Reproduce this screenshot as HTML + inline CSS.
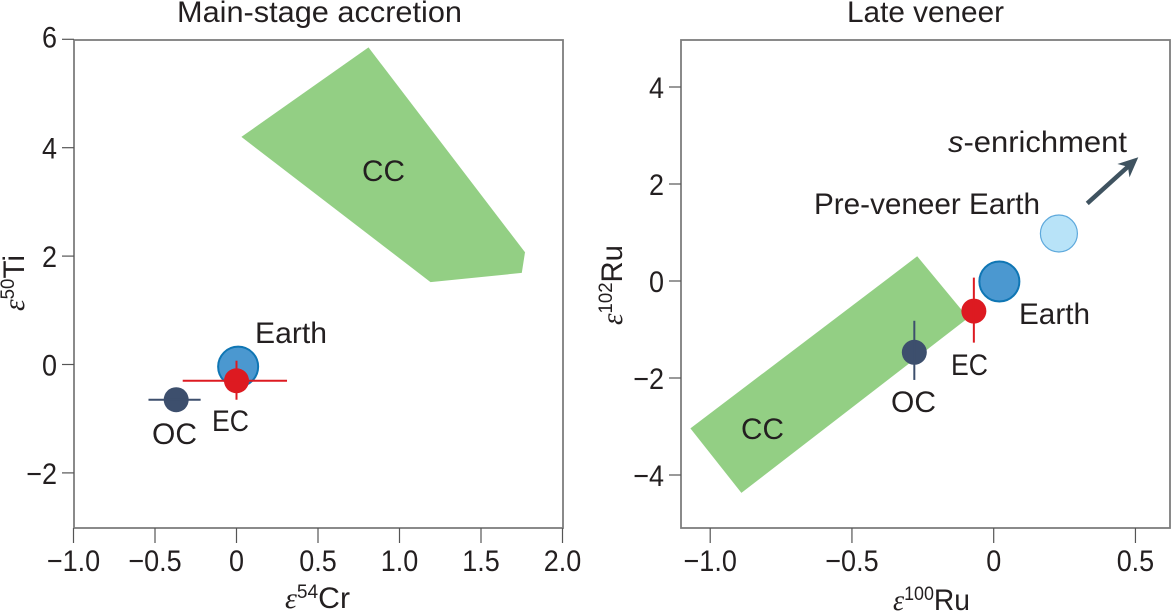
<!DOCTYPE html>
<html>
<head>
<meta charset="utf-8">
<style>
html,body{margin:0;padding:0;background:#fff;}
svg{display:block;}
text{font-family:"Liberation Sans",sans-serif;fill:#231f20;}
</style>
</head>
<body>
<svg id="chart" width="1171" height="613" viewBox="0 0 1171 613" xmlns="http://www.w3.org/2000/svg">
<text x="177" y="22" font-size="30" textLength="285" lengthAdjust="spacingAndGlyphs">Main-stage accretion</text>
<text x="847" y="22" font-size="30" textLength="157" lengthAdjust="spacingAndGlyphs">Late veneer</text>
<text x="285" y="608" font-size="30" textLength="65" lengthAdjust="spacingAndGlyphs"><tspan font-family="Liberation Serif" font-style="italic">ε</tspan><tspan font-size="19" dy="-10">54</tspan><tspan dy="10">Cr</tspan></text>
<text x="893" y="610" font-size="30" textLength="77" lengthAdjust="spacingAndGlyphs"><tspan font-family="Liberation Serif" font-style="italic">ε</tspan><tspan font-size="19" dy="-10">100</tspan><tspan dy="10">Ru</tspan></text>
<text transform="translate(24,311) rotate(-90)" font-size="30" textLength="56" lengthAdjust="spacingAndGlyphs"><tspan font-family="Liberation Serif" font-style="italic">ε</tspan><tspan font-size="19" dy="-10">50</tspan><tspan dy="10">Ti</tspan></text>
<text transform="translate(622,325) rotate(-90)" font-size="30" textLength="80" lengthAdjust="spacingAndGlyphs"><tspan font-family="Liberation Serif" font-style="italic">ε</tspan><tspan font-size="19" dy="-10">102</tspan><tspan dy="10">Ru</tspan></text>
<text x="362" y="181" font-size="30" textLength="43" lengthAdjust="spacingAndGlyphs">CC</text>
<text x="255" y="343" font-size="30" textLength="72" lengthAdjust="spacingAndGlyphs">Earth</text>
<text x="212" y="431" font-size="30" textLength="37" lengthAdjust="spacingAndGlyphs">EC</text>
<text x="152" y="444" font-size="30" textLength="45" lengthAdjust="spacingAndGlyphs">OC</text>
<text x="741" y="439" font-size="30" textLength="43" lengthAdjust="spacingAndGlyphs">CC</text>
<text x="1019" y="324" font-size="30" textLength="71" lengthAdjust="spacingAndGlyphs">Earth</text>
<text x="951" y="375" font-size="30" textLength="37" lengthAdjust="spacingAndGlyphs">EC</text>
<text x="891" y="412" font-size="30" textLength="45" lengthAdjust="spacingAndGlyphs">OC</text>
<text x="814" y="214" font-size="30" textLength="226" lengthAdjust="spacingAndGlyphs">Pre-veneer Earth</text>
<text x="948" y="152" font-size="30" textLength="179" lengthAdjust="spacingAndGlyphs"><tspan font-style="italic">s</tspan>-enrichment</text>
</svg>
<script>
// Left panel data: main-stage accretion
var leftXTicks = [-1, -0.5, 0, 0.5, 1, 1.5, 2];
var leftXLabels = ['\u22121.0', '\u22120.5', '0', '0.5', '1.0', '1.5', '2.0'];
var leftYTicks = [6, 4, 2, 0, -2];
var leftYLabels = ['6', '4', '2', '0', '\u22122'];
var leftCCx = [0.03, 0.81, 1.77, 1.75, 1.19];
var leftCCy = [4.20, 5.85, 2.07, 1.69, 1.52];
var leftNames = ['earth', 'oc', 'ec'];
var leftPointX = [0.01, -0.37, 0];
var leftPointY = [-0.04, -0.65, -0.30];
var leftXLow = [0.01, -0.54, -0.33];
var leftXHigh = [0.01, -0.22, 0.31];
var leftYLow = [-0.04, -0.65, -0.65];
var leftYHigh = [-0.04, -0.65, 0.07];

// Right panel data: late veneer
var rightXTicks = [-1, -0.5, 0, 0.5];
var rightXLabels = ['\u22121.0', '\u22120.5', '0', '0.5'];
var rightYTicks = [4, 2, 0, -2, -4];
var rightYLabels = ['4', '2', '0', '\u22122', '\u22124'];
var rightCCx = [-0.27, -0.09, -0.89, -1.07];
var rightCCy = [0.51, -0.76, -4.37, -3.04];
var rightNames = ['pre-veneer-earth', 'earth', 'oc', 'ec'];
var rightPointX = [0.23, 0.02, -0.28, -0.07];
var rightPointY = [0.98, -0.01, -1.47, -0.62];
var rightXLow = [0.23, 0.02, -0.28, -0.07];
var rightXHigh = [0.23, 0.02, -0.28, -0.07];
var rightYLow = [0.98, -0.01, -2.04, -1.27];
var rightYHigh = [0.98, -0.01, -0.82, 0.07];
var arrowX = [0.33, 0.51];
var arrowY = [1.60, 2.55];

var NS = 'http://www.w3.org/2000/svg';
var svg = document.getElementById('chart');
var firstText = svg.firstElementChild;

function lx(v) { return 236.5 + v * 163; }
function ly(v) { return 364.5 - v * 54.2; }
function rx(v) { return 993.7 + v * 283.5; }
function ry(v) { return 281 - v * 48.5; }

var pointStyles = {
  'earth': { fill: '#4b98d0', stroke: '#0f76b4', r: 20, sw: 2 },
  'pre-veneer-earth': { fill: '#b8e3f8', stroke: '#5ea9dc', r: 18.5, sw: 1.2 },
  'oc': { fill: '#3d4f6d', stroke: '#3d4f6d', r: 12.5, sw: 0, bar: '#3d4f6d' },
  'ec': { fill: '#dd1a21', stroke: '#dd1a21', r: 12.5, sw: 0, bar: '#dd1a21' }
};

function make(tag, attrs) {
  var el = document.createElementNS(NS, tag);
  for (var k in attrs) { el.setAttribute(k, attrs[k]); }
  svg.insertBefore(el, firstText);
  return el;
}

function condense(el) {
  el.setAttribute('textLength', (el.getComputedTextLength() * 0.9).toFixed(1));
  el.setAttribute('lengthAdjust', 'spacingAndGlyphs');
}

function drawPanel(id, box, xs, ys, xTicks, xLabels, yTicks, yLabels, ccX, ccY, names, px, py, xLo, xHi, yLo, yHi) {
  var pts = ccX.map(function (v, i) { return xs(v).toFixed(1) + ',' + ys(ccY[i]).toFixed(1); }).join(' ');
  var region = make('polygon', { points: pts, fill: '#93cf84' });
  
  

  var frame = make('rect', { x: box.l, y: box.t, width: box.r - box.l, height: box.b - box.t, fill: 'none', stroke: '#7d7d7d', 'stroke-width': 1.8 });
  
  

  xTicks.forEach(function (v, i) {
    var x = xs(v);
    var tick = make('line', { x1: x, x2: x, y1: box.b, y2: box.b + 15, stroke: '#555', 'stroke-width': 1.2 });
    
    
    var label = make('text', { x: x, y: 571, 'text-anchor': 'middle', 'font-size': 30 });
    label.textContent = xLabels[i];
    
    
    condense(label);
  });

  yTicks.forEach(function (v, i) {
    var y = ys(v);
    var tick = make('line', { x1: box.l - 12, x2: box.l, y1: y, y2: y, stroke: '#555', 'stroke-width': 1.2 });
    
    
    var label = make('text', { x: box.l - 17, y: y + (Math.abs(y - box.t) < 2 ? 8 : 11), 'text-anchor': 'end', 'font-size': 30 });
    label.textContent = yLabels[i];
    
    
    condense(label);
  });

  names.forEach(function (name, i) {
    var st = pointStyles[name];
    var dot = make('circle', { cx: xs(px[i]), cy: ys(py[i]), r: st.r, fill: st.fill, stroke: st.stroke, 'stroke-width': st.sw });
    
    
    if (st.bar) {
      if (xHi[i] !== xLo[i]) {
        var hBar = make('line', { x1: xs(xLo[i]), x2: xs(xHi[i]), y1: ys(py[i]), y2: ys(py[i]), stroke: st.bar, 'stroke-width': 2 });
        
        
      }
      if (yHi[i] !== yLo[i]) {
        var vBar = make('line', { x1: xs(px[i]), x2: xs(px[i]), y1: ys(yLo[i]), y2: ys(yHi[i]), stroke: st.bar, 'stroke-width': 2 });
        
        
      }
    }
  });
}

drawPanel('left', { l: 74, r: 563, t: 40, b: 528 }, lx, ly, leftXTicks, leftXLabels, leftYTicks, leftYLabels, leftCCx, leftCCy, leftNames, leftPointX, leftPointY, leftXLow, leftXHigh, leftYLow, leftYHigh);
drawPanel('right', { l: 681, r: 1170, t: 40, b: 528 }, rx, ry, rightXTicks, rightXLabels, rightYTicks, rightYLabels, rightCCx, rightCCy, rightNames, rightPointX, rightPointY, rightXLow, rightXHigh, rightYLow, rightYHigh);

var ax0 = rx(arrowX[0]), ay0 = ry(arrowY[0]), ax1 = rx(arrowX[1]), ay1 = ry(arrowY[1]);
var ang = Math.atan2(ay1 - ay0, ax1 - ax0);
var shaft = make('line', { x1: ax0, y1: ay0, x2: ax1 - 12 * Math.cos(ang), y2: ay1 - 12 * Math.sin(ang), stroke: '#3f5360', 'stroke-width': 4.5 });


var headPts = [
  [ax1, ay1],
  [ax1 - 20 * Math.cos(ang) + 9 * Math.sin(ang), ay1 - 20 * Math.sin(ang) - 9 * Math.cos(ang)],
  [ax1 - 14 * Math.cos(ang), ay1 - 14 * Math.sin(ang)],
  [ax1 - 20 * Math.cos(ang) - 9 * Math.sin(ang), ay1 - 20 * Math.sin(ang) + 9 * Math.cos(ang)]
].map(function (p) { return p[0].toFixed(1) + ',' + p[1].toFixed(1); }).join(' ');
var head = make('polygon', { points: headPts, fill: '#3f5360' });


</script>
</body>
</html>
